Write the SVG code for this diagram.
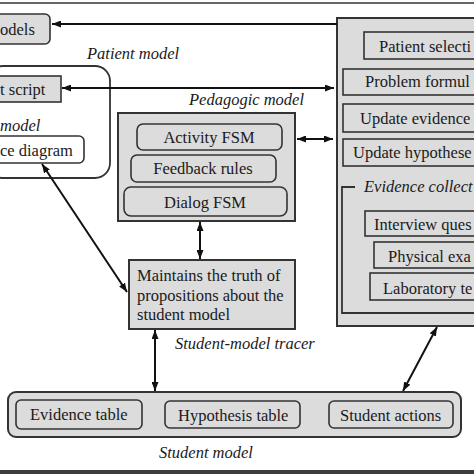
<svg xmlns="http://www.w3.org/2000/svg" width="474" height="474" viewBox="0 0 474 474">
<defs>
<marker id="ah" viewBox="0 0 10 10" refX="10" refY="5" markerWidth="9" markerHeight="7" markerUnits="userSpaceOnUse" orient="auto-start-reverse" preserveAspectRatio="none">
<path d="M0,0 L10,5 L0,10 z" fill="#111"/>
</marker>
</defs>
<style>
text{font-family:"Liberation Serif","Times New Roman",serif;font-size:16.5px;fill:#1a1a1a}
.it{font-style:italic}
.mid{text-anchor:middle}
.box{fill:#dcdcdc;stroke:#333;stroke-width:1.6}
.big{fill:#dcdcdc;stroke:#333;stroke-width:2}
.wbox{fill:#fff;stroke:#333;stroke-width:1.6}
.frame{fill:none;stroke:#333;stroke-width:1.8}
.con{fill:none;stroke:#111;stroke-width:2}
</style>
<rect x="0" y="0" width="474" height="474" fill="#fff"/>
<line x1="0" y1="3" x2="474" y2="3" stroke="#666" stroke-width="2"/>
<rect x="0" y="470" width="474" height="4" fill="#3c3c3c"/>

<g id="models">
<rect class="box" x="-8" y="14" width="58" height="30" rx="5"/>
<text x="0" y="35">odels</text>
</g>

<g id="patient-model">
<rect class="frame" x="-12" y="66" width="122" height="112" rx="15"/>
<text class="it" x="87" y="59">Patient model</text>
<g id="script">
<rect class="box" x="-4" y="76" width="65" height="26"/>
<text x="0" y="95">t script</text>
</g>
<text class="it" x="0" y="131">model</text>
<g id="diagram">
<rect class="wbox" x="-8" y="136" width="92" height="27" rx="5"/>
<text x="0" y="156">ce diagram</text>
</g>
</g>

<g id="pedagogic-model">
<text class="it" x="189" y="105">Pedagogic model</text>
<rect class="big" x="118" y="113" width="177" height="108"/>
<g id="activity-fsm">
<rect class="box" x="137" y="124" width="145" height="26" rx="6"/>
<text class="mid" x="209" y="143">Activity FSM</text>
</g>
<g id="feedback-rules">
<rect class="box" x="131" y="155" width="145" height="27" rx="6"/>
<text class="mid" x="203" y="174">Feedback rules</text>
</g>
<g id="dialog-fsm">
<rect class="box" x="124" y="187" width="163" height="29" rx="7"/>
<text class="mid" x="205" y="208">Dialog FSM</text>
</g>
</g>

<g id="tracer">
<rect class="big" x="129" y="260" width="166" height="69"/>
<text x="137" y="281">Maintains the truth of</text>
<text x="137" y="301">propositions about the</text>
<text x="137" y="320">student model</text>
<text class="it" x="175" y="349">Student-model tracer</text>
</g>

<g id="tutor">
<rect class="big" x="337" y="18" width="150" height="308"/>
<g id="patient-selection">
<rect class="box" x="364" y="32" width="120" height="27"/>
<text x="379" y="52">Patient selecti</text>
</g>
<g id="problem-formulation">
<rect class="box" x="343" y="69" width="140" height="26"/>
<text x="365" y="87">Problem formul</text>
</g>
<g id="update-evidence">
<rect class="box" x="343" y="104" width="140" height="28"/>
<text x="360" y="124">Update evidence</text>
</g>
<g id="update-hypotheses">
<rect class="box" x="343" y="139" width="140" height="27"/>
<text x="353" y="158">Update hypothese</text>
</g>
<g id="evidence-collection">
<path class="frame" d="M355,187 H342 V313 H480"/>
<text class="it" x="364" y="192">Evidence collect</text>
<g id="interview">
<rect class="box" x="365" y="211" width="120" height="25"/>
<text x="374" y="230">Interview ques</text>
</g>
<g id="physical">
<rect class="box" x="374" y="242" width="110" height="26"/>
<text x="388" y="262">Physical exa</text>
</g>
<g id="laboratory">
<rect class="box" x="370" y="273" width="114" height="27"/>
<text x="383" y="294">Laboratory te</text>
</g>
</g>
</g>

<g id="student-model">
<rect class="big" x="8" y="392" width="453" height="45" rx="8"/>
<g id="evidence-table">
<rect class="box" x="16" y="400" width="126" height="29" rx="5"/>
<text x="30" y="420">Evidence table</text>
</g>
<g id="hypothesis-table">
<rect class="box" x="165" y="401" width="135" height="27" rx="5"/>
<text x="178" y="421">Hypothesis table</text>
</g>
<g id="student-actions">
<rect class="box" x="329" y="401" width="124" height="27" rx="5"/>
<text x="340" y="421">Student actions</text>
</g>
<text class="it" x="159" y="458">Student model</text>
</g>

<g id="connectors">
<line class="con" x1="337" y1="24" x2="52" y2="24" marker-end="url(#ah)"/>
<line class="con" x1="62" y1="88" x2="334" y2="88" marker-start="url(#ah)" marker-end="url(#ah)"/>
<line class="con" x1="297" y1="139" x2="333" y2="139" marker-start="url(#ah)" marker-end="url(#ah)"/>
<line class="con" x1="42" y1="164" x2="127" y2="292" marker-start="url(#ah)" marker-end="url(#ah)"/>
<line class="con" x1="200" y1="222" x2="200" y2="259" marker-start="url(#ah)" marker-end="url(#ah)"/>
<line class="con" x1="155" y1="330" x2="155" y2="391" marker-start="url(#ah)" marker-end="url(#ah)"/>
<line class="con" x1="403" y1="391" x2="437" y2="327" marker-start="url(#ah)" marker-end="url(#ah)"/>
</g>
</svg>
